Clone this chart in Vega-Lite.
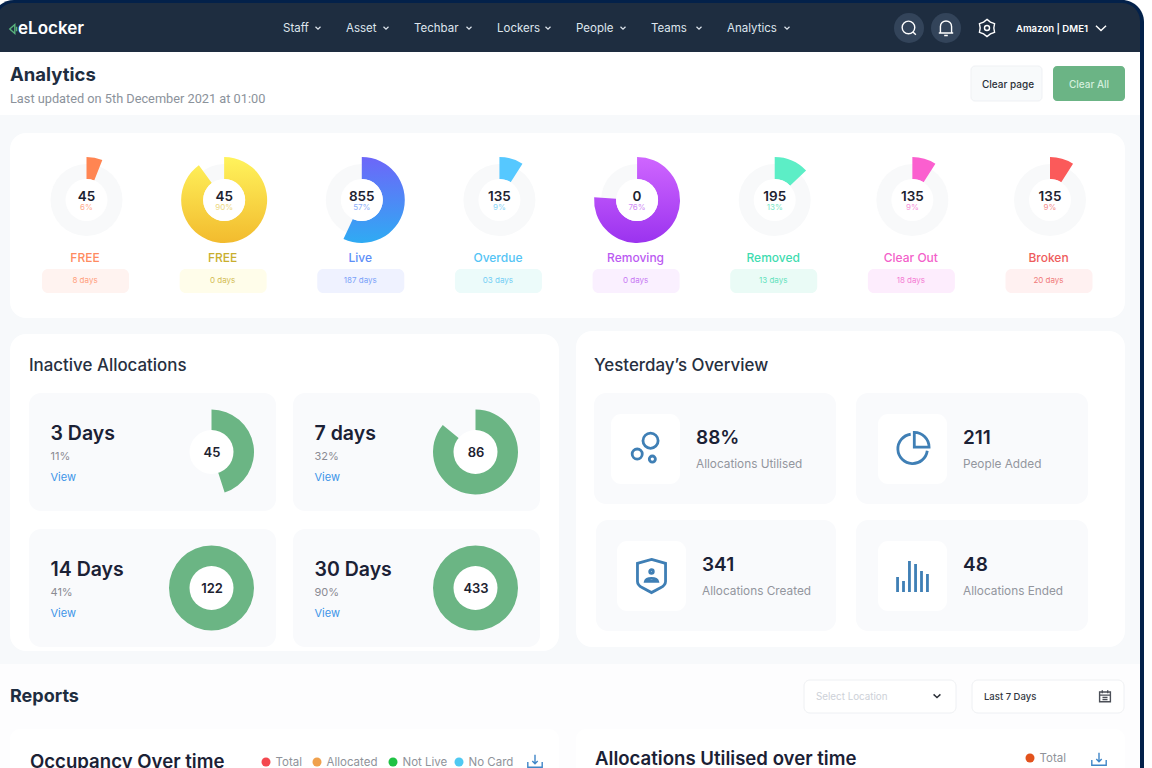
{"$schema":"https://vega.github.io/schema/vega-lite/v6.json","width":1152,"height":768,"autosize":{"type":"none"},"padding":0,"background":"#ffffff",
"config":{"view":{"stroke":null},"text":{"font":"Inter","baseline":"middle","align":"left","dy":1}},
"datasets":{
"regions":[
{"part":"frame","l":0,"r":1,"t":0,"b":1},
{"part":"nav","l":2,"r":3,"t":2,"b":3},
{"part":"page","l":4,"r":3,"t":3,"b":1},
{"part":"strip","l":4,"r":3,"t":3,"b":4},
{"part":"reports","l":4,"r":3,"t":5,"b":1},
{"part":"panel","l":5,"r":6,"t":7,"b":8},
{"part":"panel","l":5,"r":7,"t":9,"b":10},
{"part":"panel","l":8,"r":6,"t":11,"b":12},
{"part":"low","l":5,"r":7,"t":13,"b":1},
{"part":"low","l":8,"r":6,"t":13,"b":1},
{"part":"clearPage","l":9,"r":10,"t":14,"b":15},
{"part":"clearAll","l":11,"r":6,"t":14,"b":15},
{"part":"select","l":12,"r":13,"t":16,"b":17},
{"part":"select","l":14,"r":15,"t":16,"b":17},
{"part":"card","l":16,"r":17,"t":18,"b":19},
{"part":"card","l":18,"r":19,"t":18,"b":19},
{"part":"card","l":20,"r":17,"t":20,"b":21},
{"part":"card","l":18,"r":19,"t":20,"b":21}],
"labels":[
{"i":0,"text":"eLocker","level":"logo"},
{"i":1,"text":"Amazon | DME1","level":"account"},
{"i":2,"text":"Analytics","level":"h1"},
{"i":3,"text":"Last updated on 5th December 2021 at 01:00","level":"sub"},
{"i":4,"text":"Clear page","level":"btnDark"},
{"i":5,"text":"Clear All","level":"btnLight"},
{"i":6,"text":"Inactive Allocations","level":"section"},
{"i":7,"text":"Yesterday’s Overview","level":"section"},
{"i":8,"text":"Reports","level":"h2"},
{"i":9,"text":"Select Location","level":"placeholder"},
{"i":10,"text":"Last 7 Days","level":"date"},
{"i":11,"text":"Occupancy Over time","level":"chart"},
{"i":12,"text":"Allocations Utilised over time","level":"chart"}],
"nav":[{"order":0,"item":"Staff","row":0},{"order":1,"item":"Asset","row":0},{"order":2,"item":"Techbar","row":0},{"order":3,"item":"Lockers","row":0},{"order":4,"item":"People","row":0},{"order":5,"item":"Teams","row":0},{"order":6,"item":"Analytics","row":0}],
"tools":[{"i":0,"tool":"search"},{"i":1,"tool":"bell"},{"i":2,"tool":"gear"},{"i":3,"tool":"accountChevron"},{"i":4,"tool":"selectChevron"},{"i":5,"tool":"calendar"},{"i":6,"tool":"download"},{"i":7,"tool":"download"},{"i":8,"tool":"logo"}],
"kpi":[
{"card":0,"row":0,"label":"FREE","count":"45","pct":6,"pctText":"6%","days":"8 days"},
{"card":1,"row":0,"label":"FREE","count":"45","pct":90,"pctText":"90%","days":"0 days"},
{"card":2,"row":0,"label":"Live","count":"855","pct":57,"pctText":"57%","days":"187 days"},
{"card":3,"row":0,"label":"Overdue","count":"135","pct":9,"pctText":"9%","days":"03 days"},
{"card":4,"row":0,"label":"Removing","count":"0","pct":76,"pctText":"76%","days":"0 days"},
{"card":5,"row":0,"label":"Removed","count":"195","pct":13,"pctText":"13%","days":"13 days"},
{"card":6,"row":0,"label":"Clear Out","count":"135","pct":9,"pctText":"9%","days":"18 days"},
{"card":7,"row":0,"label":"Broken","count":"135","pct":9,"pctText":"9%","days":"20 days"}],
"inactive":[
{"col":0,"row":0,"title":"3 Days","share":"11%","count":"45","fill":45,"link":"View"},
{"col":1,"row":0,"title":"7 days","share":"32%","count":"86","fill":86,"link":"View"},
{"col":0,"row":1,"title":"14 Days","share":"41%","count":"122","fill":100,"link":"View"},
{"col":1,"row":1,"title":"30 Days","share":"90%","count":"433","fill":100,"link":"View"}],
"overview":[
{"card":0,"value":"88%","label":"Allocations Utilised","icon":"circles"},
{"card":1,"value":"211","label":"People Added","icon":"pie"},
{"card":2,"value":"341","label":"Allocations Created","icon":"shield"},
{"card":3,"value":"48","label":"Allocations Ended","icon":"bars"}],
"legend":[{"i":0,"series":"Total"},{"i":1,"series":"Allocated"},{"i":2,"series":"Not Live"},{"i":3,"series":"No Card"},{"i":4,"series":"Total"}]
},
"resolve":{"scale":{"x":"independent","y":"independent","color":"independent","theta":"independent","shape":"independent"}},
"layer":[
{"data":{"name":"regions"},
"encoding":{
"x":{"field":"l","type":"quantitative","axis":null,"scale":{"domain":[0,1,2,3,4,5,6,7,8,9,10,11,12,13,14,15,16,17,18,19,20],"range":[-8,1144,-4,1140,0,10,1125,559,576,971,1042,1053,804,956,972,1124,594,836,856,1088,596]}},
"x2":{"field":"r"},
"y":{"field":"t","type":"quantitative","axis":null,"scale":{"domain":[0,1,2,3,4,5,6,7,8,9,10,11,12,13,14,15,16,17,18,19,20,21],"range":[0,800,3,52,115,664,768,133,318,334,651,331,647,729,66,101,680,713,393,504,520,631]}},
"y2":{"field":"b"}},
"layer":[
{"transform":[{"filter":"datum.part==='frame'"}],"mark":{"type":"rect","color":"#03214a","cornerRadius":22}},
{"transform":[{"filter":"datum.part==='nav'"}],"mark":{"type":"rect","color":"#1e2d40","cornerRadiusTopLeft":18,"cornerRadiusTopRight":18}},
{"transform":[{"filter":"datum.part==='page'"}],"mark":{"type":"rect","color":"#f7f9fb"}},
{"transform":[{"filter":"datum.part==='strip'"}],"mark":{"type":"rect","color":"#ffffff"}},
{"transform":[{"filter":"datum.part==='reports'"}],"mark":{"type":"rect","color":"#fdfdfe"}},
{"transform":[{"filter":"datum.part==='panel'"}],"mark":{"type":"rect","color":"#ffffff","cornerRadius":16}},
{"transform":[{"filter":"datum.part==='low'"}],"mark":{"type":"rect","color":"#ffffff","cornerRadius":10}},
{"transform":[{"filter":"datum.part==='clearPage'"}],"mark":{"type":"rect","fill":"#f8fafb","stroke":"#eff1f4","cornerRadius":4}},
{"transform":[{"filter":"datum.part==='clearAll'"}],"mark":{"type":"rect","color":"#6bb485","cornerRadius":4}},
{"transform":[{"filter":"datum.part==='select'"}],"mark":{"type":"rect","fill":"#ffffff","stroke":"#eef0f3","cornerRadius":6}},
{"transform":[{"filter":"datum.part==='card'"}],"mark":{"type":"rect","color":"#f9fafc","cornerRadius":12}}
]},
{"data":{"name":"labels"},
"encoding":{
"x":{"field":"i","type":"quantitative","axis":null,"scale":{"domain":[0,1,2,3,4,5,6,7,8,9,10,11,12],"range":[18,1016,10,10,1008,1089,29,594,10,816,984,30,595]}},
"y":{"field":"i","type":"quantitative","axis":null,"scale":{"domain":[0,1,2,3,4,5,6,7,8,9,10,11,12],"range":[28,28,74,98,84,84,365,365,696,696,696,761,758]}},
"text":{"field":"text"}},
"layer":[
{"transform":[{"filter":"datum.level==='logo'"}],"mark":{"type":"text","fontSize":17,"fontWeight":600,"color":"#ffffff"}},
{"transform":[{"filter":"datum.level==='account'"}],"mark":{"type":"text","fontSize":9.6,"fontWeight":600,"color":"#ffffff"}},
{"transform":[{"filter":"datum.level==='h1'"}],"mark":{"type":"text","fontSize":18.5,"fontWeight":700,"color":"#1e2d40"}},
{"transform":[{"filter":"datum.level==='sub'"}],"mark":{"type":"text","font":"Roboto","fontSize":12.75,"color":"#8b929b"}},
{"transform":[{"filter":"datum.level==='btnDark'"}],"mark":{"type":"text","fontSize":10,"fontWeight":500,"align":"center","color":"#2b3038"}},
{"transform":[{"filter":"datum.level==='btnLight'"}],"mark":{"type":"text","fontSize":10,"fontWeight":500,"align":"center","color":"#d3efdd"}},
{"transform":[{"filter":"datum.level==='section'"}],"mark":{"type":"text","fontSize":16.9,"fontWeight":500,"color":"#27303f"}},
{"transform":[{"filter":"datum.level==='h2'"}],"mark":{"type":"text","fontSize":18,"fontWeight":700,"color":"#1e2d40"}},
{"transform":[{"filter":"datum.level==='placeholder'"}],"mark":{"type":"text","fontSize":9.8,"color":"#cdd1d8"}},
{"transform":[{"filter":"datum.level==='date'"}],"mark":{"type":"text","fontSize":9.5,"fontWeight":500,"color":"#33383f"}},
{"transform":[{"filter":"datum.level==='chart'"}],"mark":{"type":"text","fontSize":18.6,"fontWeight":600,"color":"#1b2135"}}
]},
{"data":{"name":"nav"},"mark":{"type":"text","fontSize":11.5,"color":"#dfe6ee"},
"encoding":{"x":{"field":"order","type":"quantitative","axis":null,"scale":{"domain":[0,1,2,3,4,5,6],"range":[283,346,414,497,576,651,727]}},"y":{"field":"row","type":"quantitative","axis":null,"scale":{"domain":[0,1],"range":[28,60]}},"text":{"field":"item"}}},
{"data":{"name":"nav"},"mark":{"type":"point","shape":"M-1,-0.5L0,0.5L1,-0.5","size":25,"filled":false,"stroke":"#dfe6ee","strokeWidth":1.2,"opacity":1},
"encoding":{"x":{"field":"order","type":"quantitative","axis":null,"scale":{"domain":[0,1,2,3,4,5,6],"range":[318,386,469,548,623,699,787]}},"y":{"field":"row","type":"quantitative","axis":null,"scale":{"domain":[0,1],"range":[28,60]}}}},
{"data":{"name":"tools"},
"encoding":{"x":{"field":"i","type":"quantitative","axis":null,"scale":{"domain":[0,1,2,3,4,5,6,7,8],"range":[909,946,987,1101,937,1105,535,1099,13]}},"y":{"field":"i","type":"quantitative","axis":null,"scale":{"domain":[0,1,2,3,4,5,6,7,8],"range":[28,28,28,28,696,696,761,759,29]}}},
"layer":[
{"transform":[{"filter":"datum.tool==='search'||datum.tool==='bell'"}],"mark":{"type":"circle","size":900,"color":"#33445a","opacity":1}},
{"mark":{"type":"point","size":1296,"filled":false,"strokeWidth":1.4,"opacity":1},
"encoding":{
"color":{"field":"tool","type":"nominal","legend":null,"scale":{"domain":["search","bell","gear","accountChevron","selectChevron","calendar","download","logo"],"range":["#ffffff","#ffffff","#ffffff","#ffffff","#2b3038","#4b4f57","#3f86c8","#58b27c"]}},
"shape":{"field":"tool","type":"nominal","legend":null,"scale":{"domain":["search","bell","gear","accountChevron","selectChevron","calendar","download","logo"],"range":[
"M0.32,-0.03A0.35,0.35 0 1 1 -0.38,-0.03A0.35,0.35 0 1 1 0.32,-0.03ZM0.22,0.22L0.38,0.38",
"M-0.31,0.28V-0.08A0.31,0.31 0 0 1 0.31,-0.08V0.28ZM-0.4,0.28H0.4M-0.1,0.42H0.1",
"M0,-0.48L0.19,-0.33L0.42,-0.24L0.38,0L0.42,0.24L0.19,0.33L0,0.48L-0.19,0.33L-0.42,0.24L-0.38,0L-0.42,-0.24L-0.19,-0.33ZM0.14,0A0.14,0.14 0 1 1 -0.14,0A0.14,0.14 0 1 1 0.14,0Z",
"M-0.28,-0.13L0,0.14L0.28,-0.13",
"M-0.19,-0.09L0,0.09L0.19,-0.09",
"M-0.3,-0.22H0.3V0.32H-0.3ZM-0.3,-0.05H0.3M-0.15,-0.32V-0.15M0.15,-0.32V-0.15M-0.14,0.08H0.14M-0.14,0.2H0.14",
"M-0.4,0.05V0.35H0.4V0.05M0,-0.35V0.15M-0.15,0L0,0.15L0.15,0",
"M-0.18,0L0.1,-0.25V0.25ZM0.2,-0.12V0.12"
]}}}}
]},
{"data":{"name":"kpi"},
"resolve":{"scale":{"color":"independent"}},
"encoding":{
"x":{"field":"card","type":"quantitative","axis":null,"scale":{"domain":[0,7],"range":[86.5,1050]}},
"y":{"field":"row","type":"quantitative","axis":null,"scale":{"domain":[0,1],"range":[200,300]}}},
"layer":[
{"mark":{"type":"circle","size":5184,"color":"#f8f9fa","opacity":1}},
{"transform":[{"filter":"datum.card!==1&&datum.card!==2&&datum.card!==4"}],"mark":{"type":"arc","radius":43,"radius2":21},
"encoding":{"theta":{"field":"pct","type":"quantitative","stack":null,"scale":{"domain":[0,100],"range":[0,6.2832]}},"theta2":{"datum":0},
"color":{"field":"card","type":"nominal","legend":null,"scale":{"domain":[0,3,5,6,7],"range":["#ff8552","#56c8ff","#5ceec6","#fb5fcf","#fb5a5a"]}}}},
{"transform":[{"filter":"datum.card===1"}],"mark":{"type":"arc","radius":43,"radius2":21,"color":{"gradient":"linear","x1":0,"y1":0,"x2":0,"y2":1,"stops":[{"offset":0,"color":"#fff35c"},{"offset":1,"color":"#f2bb2e"}]}},
"encoding":{"theta":{"field":"pct","type":"quantitative","stack":null,"scale":{"domain":[0,100],"range":[0,6.2832]}},"theta2":{"datum":0}}},
{"transform":[{"filter":"datum.card===2"}],"mark":{"type":"arc","radius":43,"radius2":21,"color":{"gradient":"linear","x1":0,"y1":0,"x2":0,"y2":1,"stops":[{"offset":0,"color":"#6d66f9"},{"offset":1,"color":"#2fabf3"}]}},
"encoding":{"theta":{"field":"pct","type":"quantitative","stack":null,"scale":{"domain":[0,100],"range":[0,6.2832]}},"theta2":{"datum":0}}},
{"transform":[{"filter":"datum.card===4"}],"mark":{"type":"arc","radius":43,"radius2":21,"color":{"gradient":"linear","x1":0,"y1":0,"x2":0,"y2":1,"stops":[{"offset":0,"color":"#cf66ff"},{"offset":1,"color":"#9b33ef"}]}},
"encoding":{"theta":{"field":"pct","type":"quantitative","stack":null,"scale":{"domain":[0,100],"range":[0,6.2832]}},"theta2":{"datum":0}}},
{"mark":{"type":"circle","size":1764,"color":"#ffffff","opacity":1}},
{"mark":{"type":"text","fontSize":13.5,"fontWeight":600,"align":"center","yOffset":-4,"color":"#1d2230"},"encoding":{"text":{"field":"count"}}},
{"mark":{"type":"text","fontSize":8,"align":"center","yOffset":7,"opacity":0.7},"encoding":{"text":{"field":"pctText"},
"color":{"field":"card","type":"nominal","legend":null,"scale":{"domain":[0,1,2,3,4,5,6,7],"range":["#ff8a60","#e6c94a","#5d8ef8","#54c4f5","#bb5af2","#3fdcb0","#f35fca","#ee5c5c"]}}}},
{"mark":{"type":"text","fontSize":12,"fontWeight":500,"align":"center","xOffset":-1.5,"yOffset":56.5},"encoding":{"text":{"field":"label"},
"color":{"field":"card","type":"nominal","legend":null,"scale":{"domain":[0,1,2,3,4,5,6,7],"range":["#ff8a60","#c9ae2e","#5d8ef8","#54c4f5","#bb5af2","#3fdcb0","#f35fca","#ee5c5c"]}}}},
{"mark":{"type":"rect","xOffset":-44.5,"x2Offset":42.5,"yOffset":69,"y2Offset":93,"cornerRadius":6},"encoding":{"x2":{"field":"card"},"y2":{"field":"row"},
"color":{"field":"card","type":"nominal","legend":null,"scale":{"domain":[0,1,2,3,4,5,6,7],"range":["#fff3f0","#fffdea","#eff2ff","#ecfbfa","#faf0ff","#eafbf6","#fdedfd","#fff1f1"]}}}},
{"mark":{"type":"text","fontSize":8,"align":"center","xOffset":-1.5,"yOffset":80,"opacity":0.8},"encoding":{"text":{"field":"days"},
"color":{"field":"card","type":"nominal","legend":null,"scale":{"domain":[0,1,2,3,4,5,6,7],"range":["#ff8a60","#c9ae2e","#5d8ef8","#54c4f5","#bb5af2","#3fdcb0","#f35fca","#ee5c5c"]}}}}
]},
{"data":{"name":"inactive"},
"encoding":{
"x":{"field":"col","type":"quantitative","axis":null,"scale":{"domain":[0,1],"range":[29,293]}},
"y":{"field":"row","type":"quantitative","axis":null,"scale":{"domain":[0,1],"range":[393,529]}}},
"layer":[
{"mark":{"type":"rect","color":"#f9fafc","cornerRadius":12,"x2Offset":247,"y2Offset":118},"encoding":{"x2":{"field":"col"},"y2":{"field":"row"}}},
{"mark":{"type":"arc","color":"#6bb584","radius":42.5,"radius2":20,"xOffset":182.5,"yOffset":59},"encoding":{"theta":{"field":"fill","type":"quantitative","stack":null,"scale":{"domain":[0,100],"range":[0,6.2832]}},"theta2":{"datum":0}}},
{"mark":{"type":"circle","size":1936,"color":"#ffffff","opacity":1,"xOffset":182.5,"yOffset":59}},
{"mark":{"type":"text","fontSize":13,"fontWeight":600,"align":"center","color":"#1d2230","xOffset":183,"yOffset":59},"encoding":{"text":{"field":"count"}}},
{"mark":{"type":"text","fontSize":19.5,"fontWeight":600,"color":"#1b2135","xOffset":21.5,"yOffset":40},"encoding":{"text":{"field":"title"}}},
{"mark":{"type":"text","fontSize":11,"color":"#8b8b93","xOffset":21.5,"yOffset":63},"encoding":{"text":{"field":"share"}}},
{"mark":{"type":"text","fontSize":11,"color":"#3d95e8","xOffset":21.5,"yOffset":84},"encoding":{"text":{"field":"link"}}}
]},
{"data":{"name":"overview"},
"encoding":{
"x":{"field":"card","type":"quantitative","axis":null,"scale":{"domain":[0,1,2,3],"range":[611,878,617,878]}},
"y":{"field":"card","type":"quantitative","axis":null,"scale":{"domain":[0,1,2,3],"range":[414,414,541,541]}}},
"layer":[
{"mark":{"type":"rect","color":"#ffffff","cornerRadius":10,"x2Offset":69,"y2Offset":70},"encoding":{"x2":{"field":"card"},"y2":{"field":"card"}}},
{"mark":{"type":"point","size":1296,"filled":false,"stroke":"#3f7fb5","strokeWidth":2.8,"opacity":1,"xOffset":34.5,"yOffset":35},
"encoding":{"shape":{"field":"icon","type":"nominal","legend":null,"scale":{"domain":["circles","pie","shield","bars"],"range":[
"M0.7,-0.46A0.42,0.42 0 1 1 -0.14,-0.46A0.42,0.42 0 1 1 0.7,-0.46ZM-0.18,0.28A0.28,0.28 0 1 1 -0.74,0.28A0.28,0.28 0 1 1 -0.18,0.28ZM0.55,0.56A0.17,0.17 0 1 1 0.21,0.56A0.17,0.17 0 1 1 0.55,0.56Z",
"M-0.1,-0.82A0.82,0.82 0 1 0 0.82,0.1M0.1,-0.92A0.82,0.82 0 0 1 0.92,-0.1L0.1,-0.1Z",
"M0,-0.92L0.78,-0.7V0.3Q0.78,0.5 0.5,0.65L0,0.92L-0.5,0.65Q-0.78,0.5 -0.78,0.3V-0.7ZM0.1,-0.25A0.1,0.1 0 1 1 -0.1,-0.25A0.1,0.1 0 1 1 0.1,-0.25ZM-0.34,0.3Q-0.3,0.13 0,0.13Q0.3,0.13 0.34,0.3Z",
"M-0.83,0.89V0.06M-0.5,0.89V0.28M-0.17,0.89V-0.83M0.17,0.89V-0.67M0.5,0.89V-0.28M0.83,0.89V-0.11"
]}}}},
{"mark":{"type":"text","fontSize":19,"fontWeight":600,"color":"#1b2135","xOffset":85,"yOffset":23},"encoding":{"text":{"field":"value"}}},
{"mark":{"type":"text","fontSize":11.8,"color":"#93969e","xOffset":85,"yOffset":49},"encoding":{"text":{"field":"label"}}}
]},
{"data":{"name":"legend"},
"encoding":{
"x":{"field":"i","type":"quantitative","axis":null,"scale":{"domain":[0,1,2,3,4],"range":[266,317,393,459,1030]}},
"y":{"field":"i","type":"quantitative","axis":null,"scale":{"domain":[0,1,2,3,4],"range":[762,762,762,762,758]}}},
"layer":[
{"mark":{"type":"circle","size":81,"opacity":1},"encoding":{"color":{"field":"i","type":"nominal","legend":null,"scale":{"domain":[0,1,2,3,4],"range":["#f4484f","#f0a14d","#1fc244","#4fc9f2","#e2521c"]}}}},
{"mark":{"type":"text","fontSize":11.5,"color":"#8f939a","xOffset":9.5},"encoding":{"text":{"field":"series"}}}
]}
]}
